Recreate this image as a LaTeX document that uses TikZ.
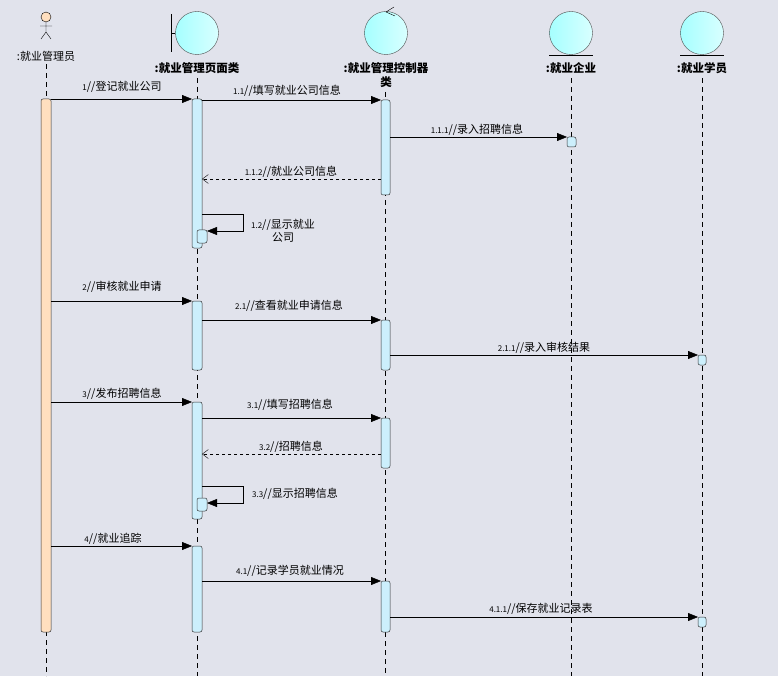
\documentclass[tikz,border=0pt]{standalone}
\usepackage{fontspec}
\newfontfamily\cjk{Noto Sans CJK SC}
\usetikzlibrary{arrows.meta}
\begin{document}
\begin{tikzpicture}[x=1pt,y=-1pt,
  lbl/.style={font=\cjk\fontsize{11}{13}\selectfont,inner sep=1pt},
  head/.style={font=\cjk\bfseries\fontsize{11.5}{14}\selectfont,inner sep=1pt,align=center},
  life/.style={dash pattern=on 5pt off 4pt,black},
  actv/.style={draw=black!80,fill=cyan!20,rounded corners=2pt,line width=0.5pt},
  msg/.style={-{Triangle[length=10pt,width=8pt]},black},
  ret/.style={dashed,-{Straight Barb[length=6pt,width=9pt]},black},
  ball/.style={draw=black!70,circle,minimum size=43pt,inner sep=0,left color=cyan!35!white,right color=cyan!15!white}]
\fill[fill={rgb,255:red,225;green,227;blue,236}] (0,0) rectangle (778,676);
\newcommand\num[1]{{\fontsize{8}{10}\selectfont #1}}
% lifelines
\foreach \x/\t in {46/64,197/78,385/92,571/78,702/78}{\draw[life] (\x,\t) -- (\x,676);}
% actor
\draw[fill=orange!25] (46,17) circle (5);
\draw (46,22)--(46,32) (40,26)--(52,26) (46,32)--(41,39) (46,32)--(51,39);
\node[lbl] (hA) at (46,56) {:就业管理员};
% boundary
\node[ball] (cP) at (197,33) {};
\draw (171,14)--(171,52) (171,33)--(cP.west);
\node[head] (hP) at (197,68) {:就业管理页面类};
% control
\node[ball] (cC) at (386,33) {};
\draw (394,7)--(386,12)--(395,16);
\node[head] (hC) at (386,75) {:就业管理控制器\\类};
% entities
\node[ball] (cE) at (571,33) {};
\draw (549,55)--(593,55);
\node[head] (hE) at (571,68) {:就业企业};
\node[ball] (cS) at (702,33) {};
\draw (680,55)--(724,55);
\node[head] (hS) at (702,68) {:就业学员};
% activations
\draw[actv,fill=orange!25] (41,99) rectangle (51,632);
\foreach \a/\b in {99/248,301/370,402/519,546/632}{\draw[actv] (192,\a) rectangle (202,\b);}
\foreach \a/\b in {100/195,320/370,418/468,581/632}{\draw[actv] (381,\a) rectangle (390,\b);}
\draw[actv] (197,230) rectangle (207,243);
\draw[actv] (197,498) rectangle (207,511);
\draw[actv] (567,137) rectangle (576,147);
\draw[actv] (698,355) rectangle (706,365);
\draw[actv] (698,617) rectangle (706,627);
\coordinate (A) at (51,0); \coordinate (P) at (192,0); \coordinate (Pr) at (202,0);
\coordinate (C) at (381,0); \coordinate (Cr) at (390,0); \coordinate (E) at (567,0);
\coordinate (S) at (698,0); \coordinate (Pn) at (207,0);
% messages
\draw[msg] (A|-0,99) -- (P|-0,99); \node[lbl] at (122,87) {\num{1}//登记就业公司};
\draw[msg] (Pr|-0,100) -- (C|-0,100); \node[lbl] at (287,91) {\num{1.1}//填写就业公司信息};
\draw[msg] (Cr|-0,137) -- (E|-0,137); \node[lbl] at (477,130) {\num{1.1.1}//录入招聘信息};
\draw[ret] (C|-0,179) -- (Pr|-0,179); \node[lbl,fill={rgb,255:red,225;green,227;blue,236}] at (291,172) {\num{1.1.2}//就业公司信息};
\draw[msg] (Pr|-0,214) -- (243,214) -- (243,231) -- (Pn|-0,231);
\node[lbl,align=center] at (283,231) {\num{1.2}//显示就业\\公司};
\draw[msg] (A|-0,301) -- (P|-0,301); \node[lbl] at (122,287) {\num{2}//审核就业申请};
\draw[msg] (Pr|-0,320) -- (C|-0,320); \node[lbl] at (289,306) {\num{2.1}//查看就业申请信息};
\draw[msg] (Cr|-0,355) -- (S|-0,355); \node[lbl] at (544,348) {\num{2.1.1}//录入审核结果};
\draw[msg] (A|-0,402) -- (P|-0,402); \node[lbl] at (122,394) {\num{3}//发布招聘信息};
\draw[msg] (Pr|-0,418) -- (C|-0,418); \node[lbl] at (290,405) {\num{3.1}//填写招聘信息};
\draw[ret] (C|-0,454) -- (Pr|-0,454); \node[lbl] at (291,447) {\num{3.2}//招聘信息};
\draw[msg] (Pr|-0,486) -- (243,486) -- (243,503) -- (Pn|-0,503);
\node[lbl] at (295,494) {\num{3.3}//显示招聘信息};
\draw[msg] (A|-0,546) -- (P|-0,546); \node[lbl] at (113,539) {\num{4}//就业追踪};
\draw[msg] (Pr|-0,581) -- (C|-0,581); \node[lbl] at (290,571) {\num{4.1}//记录学员就业情况};
\draw[msg] (Cr|-0,617) -- (S|-0,617); \node[lbl] at (541,609) {\num{4.1.1}//保存就业记录表};
\end{tikzpicture}
\end{document}
